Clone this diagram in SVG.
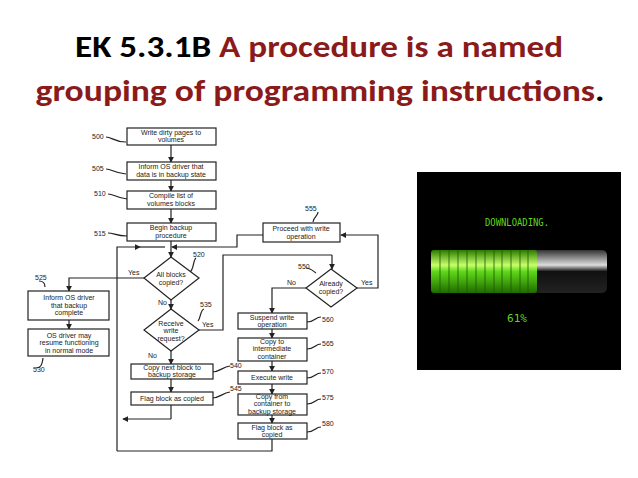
<svg xmlns="http://www.w3.org/2000/svg" width="638" height="478" viewBox="0 0 638 478">
<defs>
<marker id="ah" viewBox="0 0 8 8" refX="7" refY="4" markerWidth="5" markerHeight="5" orient="auto"><path d="M0,0L8,4L0,8z" fill="#222"/></marker>
<linearGradient id="g" x1="0" y1="0" x2="0" y2="1"><stop offset="0" stop-color="#2a7a00"/><stop offset="0.35" stop-color="#c8ff6a"/><stop offset="0.5" stop-color="#5fd81a"/><stop offset="1" stop-color="#1f6a00"/></linearGradient>
<linearGradient id="gb" x1="0" y1="0" x2="0" y2="1"><stop offset="0" stop-color="#333"/><stop offset="0.35" stop-color="#ddd"/><stop offset="0.5" stop-color="#111"/><stop offset="1" stop-color="#222"/></linearGradient>
</defs>
<style>
.b{fill:#fff;stroke:#222;stroke-width:1.2}
.t{font-family:"Liberation Sans",Arial,sans-serif;font-size:7px;fill:#222;text-anchor:middle}
.n{font-family:"Liberation Sans",Arial,sans-serif;font-size:7px;fill:#222}
.c{fill:none;stroke:#222;stroke-width:1.2}
.ca{fill:none;stroke:#222;stroke-width:1.2;marker-end:url(#ah)}
.h{font-family:Carlito,"Open Sans","Liberation Sans",sans-serif;font-weight:bold;font-size:30px;text-anchor:middle}
.d{font-family:"DejaVu Sans Mono",monospace;font-size:11px;fill:#5fd81a;text-anchor:middle}
</style>
<rect width="638" height="478" fill="#fff"/>
<text class="h" x="319" y="57" textLength="488" lengthAdjust="spacingAndGlyphs"><tspan fill="#000">EK 5.3.1B </tspan><tspan fill="#8b1a1a">A procedure is a named</tspan></text>
<text class="h" x="320" y="101" textLength="569" lengthAdjust="spacingAndGlyphs"><tspan fill="#8b1a1a">grouping of programming instructions</tspan><tspan fill="#000">.</tspan></text>

<g id="connectors">
<path class="ca" d="M171,145V162"/><path class="ca" d="M171,180V191"/><path class="ca" d="M171,209V223"/>
<path class="ca" d="M171,241V257"/>
<path class="ca" d="M263,235H237V247H172"/>
<path class="ca" d="M117,451V247H140"/><path class="c" d="M140,247H165"/>
<path class="ca" d="M144,278H69V291"/><path class="ca" d="M69,320V329"/>
<path class="ca" d="M171,300V309"/>
<path class="ca" d="M171,351V364"/><path class="ca" d="M171,379V392"/>
<path class="c" d="M171,405V419"/><path class="ca" d="M171,419H123"/>
<path class="c" d="M199,330H223V255H332"/><path class="ca" d="M332,255V269"/>
<path class="ca" d="M357,288H378V235H341"/>
<path class="ca" d="M306,288H272V313"/>
<path class="ca" d="M272,329V338"/><path class="ca" d="M272,361V371"/><path class="ca" d="M272,384V394"/><path class="ca" d="M272,415V423"/>
<path class="c" d="M272,439V451H117"/>
<path class="c" d="M106,137c6,0 8,5 20,5M106,169c6,0 8,4 20,5M108,194c6,0 8,4 19,5M108,233c6,0 8,3 19,3M190,272c4,-3 3,-12 6,-14M198,321c3,-3 2,-11 6,-12M39,281c4,0 6,2 6,6M36,368c4,0 6,-2 7,-10M318,212c0,4 -4,4 -5,10M306,268c4,0 6,2 10,5M212,372c8,0 10,-5 18,-6M212,398c8,0 10,-5 18,-6M307,322c8,0 8,-5 14,-5M307,349c8,0 8,-5 14,-5M307,378c8,0 8,-5 14,-5M307,404c8,0 8,-5 14,-5M307,432c8,0 8,-5 14,-5"/>
</g>

<g id="n500"><rect class="b" x="127" y="128" width="89" height="17"/><text class="t" x="171" y="135">Write dirty pages to</text><text class="t" x="171" y="142">volumes</text><text class="n" x="92" y="139">500</text></g>
<g id="n505"><rect class="b" x="127" y="162" width="89" height="18"/><text class="t" x="171" y="169">Inform OS driver that</text><text class="t" x="171" y="177">data is in backup state</text><text class="n" x="92" y="171">505</text></g>
<g id="n510"><rect class="b" x="127" y="191" width="89" height="18"/><text class="t" x="171" y="198">Compile list of</text><text class="t" x="171" y="206">volumes blocks</text><text class="n" x="94" y="196">510</text></g>
<g id="n515"><rect class="b" x="127" y="223" width="89" height="18"/><text class="t" x="171" y="230">Begin backup</text><text class="t" x="171" y="238">procedure</text><text class="n" x="94" y="236">515</text></g>
<g id="n520"><path class="b" d="M171,257L199,278L171,300L144,278z"/><text class="t" x="171" y="277">All blocks</text><text class="t" x="171" y="285">copied?</text><text class="n" x="193" y="257">520</text><text class="n" x="128" y="275">Yes</text><text class="n" x="158" y="305">No</text></g>
<g id="n525"><rect class="b" x="28" y="291" width="81" height="29"/><text class="t" x="69" y="300">Inform OS driver</text><text class="t" x="69" y="308">that backup</text><text class="t" x="69" y="315">complete</text><text class="n" x="35" y="280">525</text></g>
<g id="n530"><rect class="b" x="28" y="329" width="81" height="27"/><text class="t" x="69" y="338">OS driver may</text><text class="t" x="69" y="345">resume functioning</text><text class="t" x="69" y="353">in normal mode</text><text class="n" x="33" y="372">530</text></g>
<g id="n535"><path class="b" d="M171,309L199,330L171,351L144,330z"/><text class="t" x="171" y="326">Receive</text><text class="t" x="171" y="333">write</text><text class="t" x="171" y="341">request?</text><text class="n" x="200" y="307">535</text><text class="n" x="202" y="327">Yes</text><text class="n" x="148" y="358">No</text></g>
<g id="n540"><rect class="b" x="131" y="364" width="82" height="15"/><text class="t" x="172" y="370">Copy next block to</text><text class="t" x="172" y="377">backup storage</text><text class="n" x="230" y="368">540</text></g>
<g id="n545"><rect class="b" x="131" y="392" width="82" height="13"/><text class="t" x="172" y="401">Flag block as copied</text><text class="n" x="230" y="391">545</text></g>
<g id="n555"><rect class="b" x="263" y="223" width="77" height="19"/><text class="t" x="301" y="231">Proceed with write</text><text class="t" x="301" y="239">operation</text><text class="n" x="305" y="211">555</text></g>
<g id="n550"><path class="b" d="M331,269L357,288L331,307L306,288z"/><text class="t" x="331" y="286">Already</text><text class="t" x="331" y="294">copied?</text><text class="n" x="298" y="269">550</text><text class="n" x="287" y="285">No</text><text class="n" x="361" y="285">Yes</text></g>
<g id="n560"><rect class="b" x="238" y="313" width="69" height="16"/><text class="t" x="272" y="320">Suspend write</text><text class="t" x="272" y="327">operation</text><text class="n" x="322" y="322">560</text></g>
<g id="n565"><rect class="b" x="238" y="338" width="69" height="23"/><text class="t" x="272" y="344">Copy to</text><text class="t" x="272" y="351">intermediate</text><text class="t" x="272" y="359">container</text><text class="n" x="322" y="346">565</text></g>
<g id="n570"><rect class="b" x="238" y="371" width="69" height="13"/><text class="t" x="272" y="380">Execute write</text><text class="n" x="322" y="374">570</text></g>
<g id="n575"><rect class="b" x="238" y="394" width="69" height="21"/><text class="t" x="272" y="399">Copy from</text><text class="t" x="272" y="406">container to</text><text class="t" x="272" y="414">backup storage</text><text class="n" x="322" y="400">575</text></g>
<g id="n580"><rect class="b" x="238" y="423" width="69" height="16"/><text class="t" x="272" y="430">Flag block as</text><text class="t" x="272" y="437">copied</text><text class="n" x="322" y="426">580</text></g>

<g id="download">
<rect x="417" y="172" width="204" height="198" fill="#000"/>
<text class="d" x="517" y="226" textLength="64" lengthAdjust="spacingAndGlyphs">DOWNLOADING.</text>
<rect x="431" y="250" width="176" height="43" rx="5" fill="url(#gb)"/>
<rect x="431" y="250" width="106" height="43" rx="3" fill="url(#g)"/>
<path d="M440,250V293M449,250V293M458,250V293M467,250V293M476,250V293M485,250V293M494,250V293M502,250V293M511,250V293M520,250V293M528,250V293" stroke="#1a5a00" stroke-width="0.8"/>
<text class="d" x="517" y="322" textLength="20" lengthAdjust="spacingAndGlyphs">61%</text>
</g>
</svg>
